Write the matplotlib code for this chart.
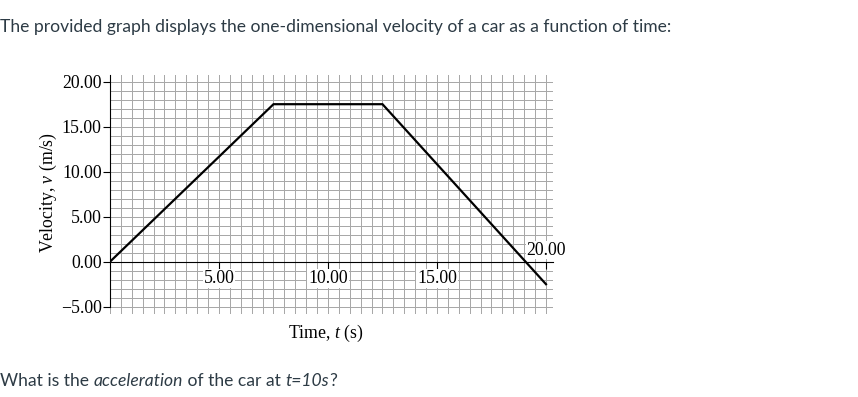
import matplotlib
matplotlib.use("Agg")
import matplotlib.pyplot as plt
import numpy as np

# velocity vs time
t = [0, 7.5, 12.5, 20]
v = [0, 17.5, 17.5, -2.5]
xticks = [5, 10, 15, 20]
yticks = [-5, 0, 5, 10, 15, 20]

W, H = 858, 397
plt.rcParams['mathtext.fontset'] = 'custom'
plt.rcParams['mathtext.rm'] = 'Liberation Serif'
plt.rcParams['mathtext.it'] = 'Liberation Serif:italic'

fig = plt.figure(figsize=(W / 100, H / 100), dpi=100)

# axes placed in pixels: x=0 at 110 px, 21.8 px/s; v=0 at 261.7 px, 9 px per m/s
x0, y0, sx, sy = 110, 261.7, 21.8, 9.0
xmin, xmax, ymin, ymax = 0, 20.3, -5.8, 20.75
left = x0 / W
right = (x0 + xmax * sx) / W
top = 1 - (y0 - ymax * sy) / H
bottom = 1 - (y0 - ymin * sy) / H
ax = fig.add_axes([left, bottom, right - left, top - bottom])

ax.plot(t, v, color='black', lw=1.6, zorder=3, solid_joinstyle='miter')
ax.set_xlim(xmin, xmax)
ax.set_ylim(ymin, ymax)

# grid every 0.5 s and 1 m/s, drawn under the tick labels
gx = np.arange(0, 20.01, 0.5)
gy = np.arange(-5, 20.01, 1)
ax.vlines(gx, ymin, ymax, color='#a8a8a8', lw=0.72, zorder=0.5, antialiased=False)
ax.hlines(gy, xmin, xmax, color='#a8a8a8', lw=0.72, zorder=0.5, antialiased=False)

for s in ['top', 'right']:
    ax.spines[s].set_visible(False)
ax.spines['bottom'].set_position(('data', 0))
ax.spines['bottom'].set_bounds(0, xmax)
ax.spines['left'].set_bounds(-5, ymax)
ax.spines['bottom'].set_linewidth(0.8)
ax.spines['left'].set_linewidth(0.8)

serif = 'Liberation Serif'
ax.set_xticks(xticks)
ax.set_xticklabels(['%.2f' % x if x != 20 else '' for x in xticks],
                   family=serif, fontsize=12.8)
ax.set_yticks(yticks)
ax.set_yticklabels(['%.2f' % y if y >= 0 else '\u2212%.2f' % -y for y in yticks],
                   family=serif, fontsize=12.8)
ax.tick_params(axis='x', direction='out', length=5, width=0.8, pad=1)
ax.tick_params(axis='y', direction='out', length=5, width=0.8, pad=1)
for lab in ax.get_xticklabels():
    lab.set_bbox(dict(facecolor='white', edgecolor='none', pad=0.5))
ax.text(20, 0.35, '20.00', family=serif, fontsize=12.8, ha='center', va='bottom',
        bbox=dict(facecolor='white', edgecolor='none', pad=0.5), zorder=4)

fig.text(48 / W, 1 - 193 / H, 'Velocity, $\\mathit{v}$ (m/s)', family=serif,
         fontsize=12.8, rotation=90, ha='center', va='center')
fig.text(326 / W, 1 - 333 / H, 'Time, $\\mathit{t}$ (s)', family=serif,
         fontsize=12.8, ha='center', va='center')

# question text
col = '#2d3b45'
fs = 12.6
fig.text(0.0, 1 - 27 / H,
         'The provided graph displays the one-dimensional velocity of a car as a function of time:',
         family='Lato', fontsize=fs, color=col, va='center', ha='left')

parts = [('What is the ', 'normal'), ('acceleration', 'italic'),
         (' of the car at ', 'normal'), ('t=10s', 'italic'), ('?', 'normal')]
prev = fig.text(0.0, 1 - 386 / H, parts[0][0], family='Lato', fontsize=fs,
                color=col, va='baseline', ha='left')
for txt, st in parts[1:]:
    prev = plt.annotate(txt, xy=(1, 0), xycoords=prev, xytext=(0, 0),
                        textcoords='offset points', family='Lato', fontsize=fs,
                        color=col, style=st, va='bottom', ha='left',
                        annotation_clip=False)

fig.savefig('out.png', dpi=100)
